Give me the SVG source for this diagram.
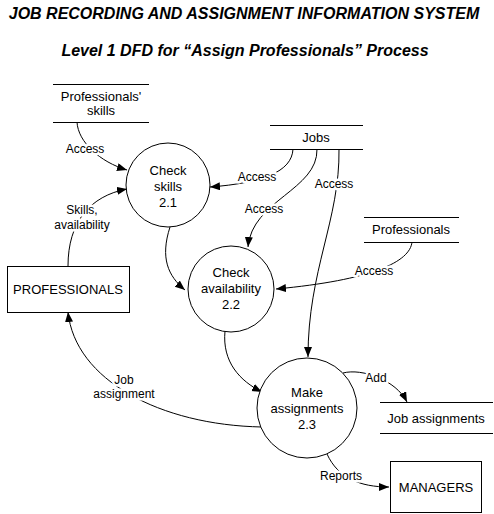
<svg xmlns="http://www.w3.org/2000/svg" width="494" height="514" viewBox="0 0 494 514">
<style>
text{font-family:"Liberation Sans",Arial,sans-serif;fill:#000}
.title{font-size:16px;font-weight:bold;font-style:italic;text-anchor:middle}
.node{font-size:13px;text-anchor:middle}
.lbl{font-size:12px;text-anchor:middle;paint-order:stroke;stroke:#fff;stroke-width:5px;stroke-linejoin:round}
.shape{fill:#fff;stroke:#000;stroke-width:1}
.store{stroke:#000;stroke-width:1;fill:none}
.flow{fill:none;stroke:#000;stroke-width:1;marker-end:url(#arr)}
</style>
<defs>
<marker id="arr" markerUnits="userSpaceOnUse" markerWidth="11" markerHeight="9" refX="10" refY="4" orient="auto">
<path d="M0,0 L10,4 L0,8 z" fill="#000"/>
</marker>
</defs>
<rect width="494" height="514" fill="#fff"/>
<text class="title" x="244" y="19">JOB RECORDING AND ASSIGNMENT INFORMATION SYSTEM</text>
<text class="title" x="245" y="56">Level 1 DFD for “Assign Professionals” Process</text>

<g id="connectors">
<path class="flow" d="M77,122 C78,142 100,162 127,170"/>
<path class="flow" d="M68,266 C68,222 90,196 127,189"/>
<path class="flow" d="M293,149 C292,172 262,183 210,187"/>
<path class="flow" d="M317,149 C318,190 252,200 248,247"/>
<path class="flow" d="M339,149 C340,220 308,270 308,357"/>
<path class="flow" d="M412,242 C410,262 372,280 276,289"/>
<path class="flow" d="M170,227 C160,258 168,276 185,290"/>
<path class="flow" d="M225,331 C222,362 240,381 262,392"/>
<path class="flow" d="M262,427 C160,425 75,380 68,312"/>
<path class="flow" d="M343,373 C362,368 396,380 407,402"/>
<path class="flow" d="M327,454 C338,478 360,487 389,487"/>
<text class="lbl" x="85" y="153">Access</text>
<text class="lbl" x="82" y="214">Skills,</text>
<text class="lbl" x="82" y="229">availability</text>
<text class="lbl" x="257" y="181">Access</text>
<text class="lbl" x="264" y="213">Access</text>
<text class="lbl" x="334" y="188">Access</text>
<text class="lbl" x="374" y="275">Access</text>
<text class="lbl" x="124" y="384">Job</text>
<text class="lbl" x="124" y="398">assignment</text>
<text class="lbl" x="376" y="382">Add</text>
<text class="lbl" x="341" y="480">Reports</text>
</g>

<g id="store-professionals-skills">
<line class="store" x1="53" y1="84.5" x2="149" y2="84.5"/>
<line class="store" x1="53" y1="122.5" x2="149" y2="122.5"/>
<text class="node" x="101" y="101">Professionals'</text>
<text class="node" x="101" y="115">skills</text>
</g>
<g id="store-jobs">
<line class="store" x1="270" y1="125.5" x2="363" y2="125.5"/>
<line class="store" x1="270" y1="149.5" x2="363" y2="149.5"/>
<text class="node" x="316" y="142">Jobs</text>
</g>
<g id="store-professionals">
<line class="store" x1="364" y1="217.5" x2="459" y2="217.5"/>
<line class="store" x1="364" y1="242.5" x2="459" y2="242.5"/>
<text class="node" x="411" y="234">Professionals</text>
</g>
<g id="store-job-assignments">
<line class="store" x1="380" y1="402.5" x2="493" y2="402.5"/>
<line class="store" x1="380" y1="433.5" x2="493" y2="433.5"/>
<text class="node" x="436" y="423">Job assignments</text>
</g>
<g id="process-2-1">
<circle class="shape" cx="168" cy="185" r="42"/>
<text class="node" x="168" y="175">Check</text>
<text class="node" x="168" y="191">skills</text>
<text class="node" x="168" y="207">2.1</text>
</g>
<g id="process-2-2">
<circle class="shape" cx="231" cy="289" r="43"/>
<text class="node" x="231" y="277">Check</text>
<text class="node" x="231" y="293">availability</text>
<text class="node" x="231" y="309">2.2</text>
</g>
<g id="process-2-3">
<circle class="shape" cx="307" cy="408" r="50"/>
<text class="node" x="307" y="397">Make</text>
<text class="node" x="307" y="413">assignments</text>
<text class="node" x="307" y="429">2.3</text>
</g>
<g id="entity-professionals">
<rect class="shape" x="7.5" y="266.5" width="122" height="46"/>
<text class="node" x="68" y="294">PROFESSIONALS</text>
</g>
<g id="entity-managers">
<rect class="shape" x="390.5" y="461.5" width="91" height="51"/>
<text class="node" x="436" y="492">MANAGERS</text>
</g>
</svg>
